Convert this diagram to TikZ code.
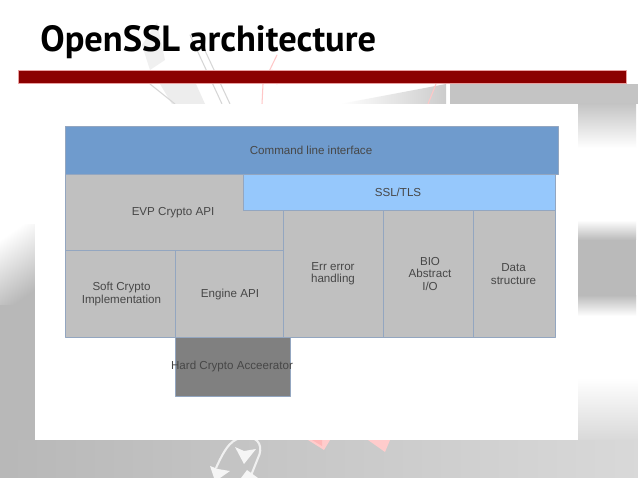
\documentclass[tikz,border=0pt]{standalone}
\usepackage{fontspec}
\setmainfont{Liberation Sans}
\newfontfamily\titlefont{PT Sans}
\definecolor{barred}{HTML}{8B0000}
\definecolor{barpink}{HTML}{E8A0A0}
\definecolor{cmdblue}{HTML}{6F9BCD}
\definecolor{sslblue}{HTML}{96C8FC}
\definecolor{cellgray}{HTML}{C0C0C0}
\definecolor{hardgray}{HTML}{808080}
\definecolor{celledge}{HTML}{93A6C0}
\tikzset{
	cellbox/.style={draw=celledge, line width=0.5pt},
	celltext/.style={font=\fontsize{6.6}{7}\selectfont, align=center, text=black!72, inner sep=0pt},
	streak/.style={line width=0.6pt, line cap=round},
}
\begin{document}
\begin{tikzpicture}[x=0.02cm, y=-0.02cm, line join=round]
	\useasboundingbox (0,0) rectangle (638,479);
	\fill[white] (0,0) rectangle (638,479);
	% shaded backdrop
	\shade[left color=white, right color=black!20] (340,104)--(430,87)--(446,84)--(446,104)--cycle;
	\fill[black!23] (450,84) rectangle (638,104);
	\shade[top color=black!23, bottom color=white] (578,104) rectangle (636,148);
	\shade[top color=white, bottom color=black!27] (578,220) rectangle (636,240);
	\fill[black!27] (578,240) rectangle (636,295);
	\shade[top color=black!27, bottom color=white] (578,295) rectangle (636,316);
	\shade[top color=white, bottom color=black!15] (578,378) rectangle (638,440);
	\shade[top color=white, bottom color=black!28, shading angle=35] (0,225) rectangle (35,305);
	\fill[black!28] (0,305) rectangle (35,440);
	\shade[left color=black!28, right color=black!15] (0,440) rectangle (638,478);
	% leaves behind the title
	\fill[black!6] (157,22)--(165,60)--(150,70)--(142,45)--cycle;
	\fill[black!7] (160,84)--(196,84)--(205,104)--(172,104)--cycle;
	\draw[streak, black!16] (150,84)--(175,104) (190,35)--(222,104) (200,40)--(230,104);
	\draw[streak, red!22] (277,55)--(263,84)--(262,104) (272,70)--(277,84);
	\draw[streak, red!22] (436,84)--(428,104);
	\fill[red!20] (308,440)--(330,440)--(324,450)--cycle;
	\fill[red!28] (312,440)--(322,440)--(322,446)--cycle;
	\fill[red!20] (368,440)--(390,440)--(385,452)--cycle;
	% arrows at the foot
	\draw[black!6, line width=1.2pt] (216,468) .. controls (226,446) and (232,438) .. (246,437) .. controls (260,437) and (263,448) .. (258,458)--(250,478);
	\fill[black!4] (235,447)--(244,451)--(256,449)--(244,464)--cycle;
	\fill[black!4] (210,466)--(218,469)--(230,471)--(220,478)--(214,478)--cycle;
	\fill[black!4] (241,478)--(247,470)--(258,478)--cycle;
	\fill[white] (0,478) rectangle (638,479);
	% title and bar
	\node[font=\titlefont\bfseries\fontsize{20.75}{24}\selectfont, anchor=base west, inner sep=0pt] (title) at (40,52) {OpenSSL architecture};
	\draw[fill=barred, draw=barpink, line width=0.4pt] (18,70) rectangle (626,83);
	\fill[white] (35,104) rectangle (578,440);
	% blocks
	\draw[cellbox, fill=cellgray] (65,174)--(243,174)--(243,210)--(283,210)--(283,250)--(65,250)--cycle;
	\draw[cellbox, fill=sslblue] (243,174) rectangle (555,210);
	\draw[cellbox, fill=cmdblue] (65,126) rectangle (558,174);
	\draw[cellbox, fill=cellgray] (65,250) rectangle (175,337);
	\draw[cellbox, fill=cellgray] (175,250) rectangle (283,337);
	\draw[cellbox, fill=cellgray] (283,210) rectangle (383,337);
	\draw[cellbox, fill=cellgray] (383,210) rectangle (473,337);
	\draw[cellbox, fill=cellgray] (473,210) rectangle (555,337);
	\draw[cellbox, fill=hardgray] (175,337) rectangle (290,396);
	% labels
	\node[celltext] (cmd) at (311,150.5) {Command line interface};
	\node[celltext] (ssl) at (398,192) {SSL/TLS};
	\node[celltext] (evp) at (173,212.5) {EVP Crypto API};
	\node[celltext] (soft) at (121.5,294) {Soft Crypto\\Implementation};
	\node[celltext] (engine) at (230,294.5) {Engine API};
	\node[celltext] (err) at (333,274) {Err error\\handling};
	\node[celltext] (bio) at (430,274) {BIO\\Abstract\\I/O};
	\node[celltext] (data) at (513.5,274) {Data\\structure};
	\node[celltext] (hard) at (232,366.5) {Hard Crypto Acceerator};
\end{tikzpicture}
\end{document}
